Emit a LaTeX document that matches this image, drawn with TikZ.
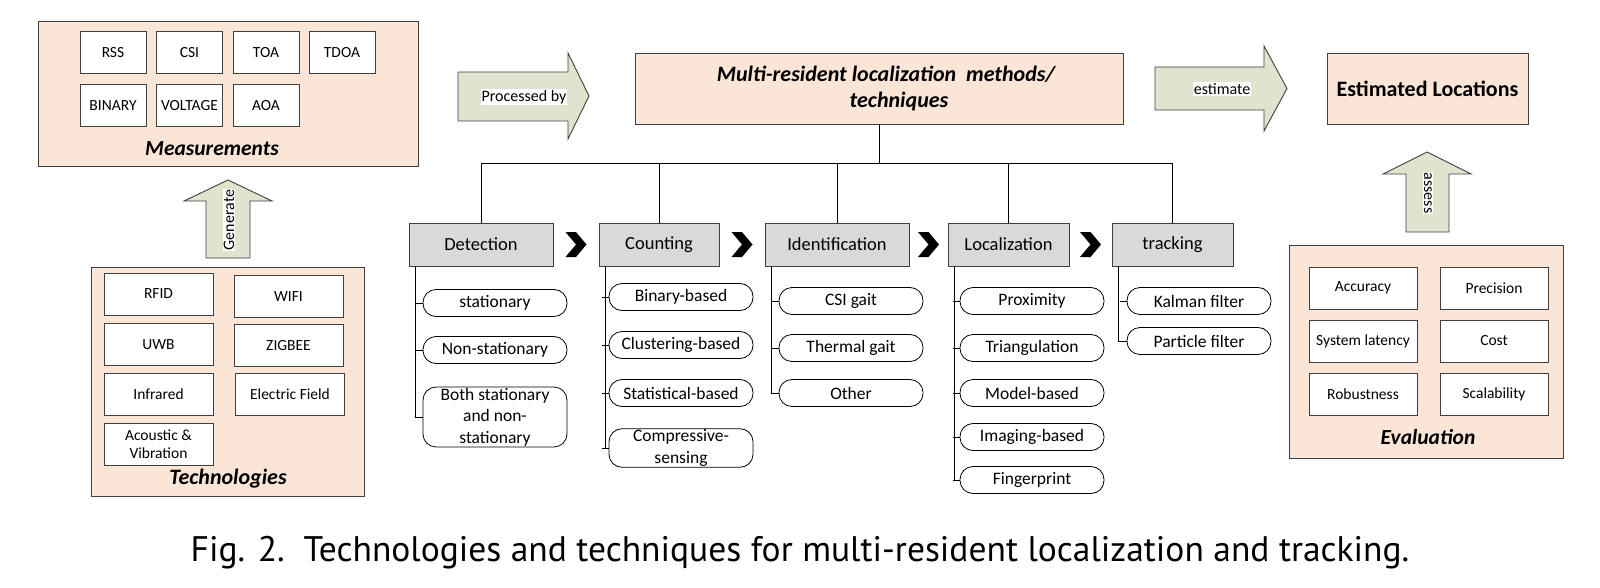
\documentclass[tikz,border=0pt]{standalone}
\usepackage{fontspec}
\setmainfont{Carlito}
\newfontfamily\capfont{PT Sans}
\usetikzlibrary{positioning,calc}
\definecolor{peach}{HTML}{FBE5D6}
\definecolor{sage}{HTML}{DFE4CE}
\definecolor{stagegray}{HTML}{D9D9D9}
\definecolor{edge}{HTML}{3F3F3F}
\newcommand{\pxfont}[2]{\fontsize{#1pt}{#2pt}\selectfont}
\tikzset{
  panel/.style={draw=edge,fill=peach,line width=0.9pt},
  cell/.style={draw=edge,fill=white,line width=0.9pt,minimum height=42pt,inner sep=0pt,align=center,font=\pxfont{15.5}{17.5}},
  stage/.style={draw=edge,fill=stagegray,line width=0.9pt,minimum height=43pt,inner sep=0pt,font=\pxfont{18.5}{22}},
  pill/.style={draw=black,fill=white,line width=0.8pt,rounded corners=13pt,minimum height=27pt,minimum width=144pt,inner sep=1pt,align=center,font=\pxfont{17.5}{21.5}},
  bigarrow/.style={draw=edge,fill=sage,line width=0.9pt,line join=miter},
  tag/.style={fill=white,inner sep=1pt,font=\pxfont{16}{18}},
  heading/.style={font=\bfseries\itshape\pxfont{21.5}{24}},
  chev/.style={fill=black},
  branch/.style={draw=black,line width=0.8pt}
}
\begin{document}
\begin{tikzpicture}[x=1pt,y=-1pt]
\useasboundingbox (0,0) rectangle (1600,588);
% measurements
\draw[panel] (38,21) rectangle (418,166);
\foreach \nm/\cx/\cy/\txt in {rss/113/52.5/RSS, csi/189.5/52.5/CSI, toa/266/52.5/TOA, tdoa/342/52.5/TDOA,
  bin/113/105.5/BINARY, volt/189.5/105.5/VOLTAGE, aoa/266/105.5/AOA}
  \node[cell,minimum width=66pt] (\nm) at (\cx,\cy) {\txt};
\node[heading] (meas) at (212,149) {Measurements};
% technologies
\draw[panel] (91,267) rectangle (364,496);
\foreach \nm/\cx/\cy/\txt in {rfid/158.5/294/RFID, wifi/288.5/296.5/WIFI, uwb/158.5/344.5/UWB, zig/288.5/345.5/ZIGBEE,
  ir/158.5/394/Infrared, ef/290/394.5/Electric Field, ac/158.5/444/{Acoustic \&\\Vibration}}
  \node[cell,minimum width=109pt] (\nm) at (\cx,\cy) {\txt};
\node[heading,font=\bfseries\itshape\pxfont{22}{24}] (tech) at (228,479) {Technologies};
% generate arrow
\draw[bigarrow] (206,258) -- (206,201) -- (184,201) -- (228,180) -- (272,201) -- (250,201) -- (250,258) -- cycle;
\node[tag,rotate=90] (gen) at (229,220) {Generate};
% processed by arrow
\draw[bigarrow] (458,72) -- (568,72) -- (568,53) -- (589,96) -- (568,139) -- (568,121) -- (458,121) -- cycle;
\node[tag] (proc) at (524,97) {Processed by};
% methods box
\node[draw=edge,fill=peach,line width=0.9pt,minimum width=488pt,minimum height=71pt,align=center,
  font=\bfseries\itshape\pxfont{22}{26}] (main) at (879,88.5) {\hspace*{14pt}Multi-resident localization\ \ methods/\\\hspace*{40pt}techniques};
% estimate arrow
\draw[bigarrow] (1155,67) -- (1264,67) -- (1264,46) -- (1287,88.5) -- (1264,131) -- (1264,110) -- (1155,110) -- cycle;
\node[tag] (est) at (1222,89) {estimate};
\node[draw=edge,fill=peach,line width=0.9pt,minimum width=201pt,minimum height=71pt,
  font=\bfseries\pxfont{22}{24}] (loc) at (1427.5,88.5) {Estimated Locations};
% assess arrow
\draw[bigarrow] (1406,232) -- (1406,174) -- (1383,174) -- (1427,152) -- (1471,174) -- (1449,174) -- (1449,232) -- cycle;
\node[tag,rotate=270] (ass) at (1428,193) {assess};
% evaluation
\draw[panel] (1289,245) rectangle (1563,458);
\foreach \nm/\cx/\cy/\txt in {acc/1363/288/Accuracy, prec/1494/288/Precision, lat/1363/341/System latency,
  cost/1494/341/Cost, rob/1363/394/Robustness, scal/1494/394/Scalability}
  \node[cell,minimum width=108pt] (\nm) at (\cx,\cy) {\txt};
\node[heading] (eval) at (1428,437) {Evaluation};
% stages
\foreach \nm/\cx/\w/\txt in {det/481/144/Detection, cnt/659/120/Counting, idf/837/144/Identification,
  lcz/1008.5/121/Localization, trk/1172.5/121/tracking}
  \node[stage,minimum width=\w pt] (\nm) at (\cx,244.5) {\txt};
\coordinate (bus) at (879,163);
\draw[branch] (main.south) -- (bus);
\foreach \nm in {det,cnt,idf,lcz,trk}
  \draw[branch] (\nm.north) |- (bus);
% chevrons between stages
\foreach \a/\b in {det/cnt, cnt/idf, idf/lcz, lcz/trk}
  \fill[chev] ($(\a.east)!0.5!(\b.west)$) ++(-10.5,-12.5) -- ++(10.5,0) -- ++(10.5,12.5) -- ++(-10.5,12.5) -- ++(-10.5,0) -- ++(10.5,-12.5) -- cycle;
% sub-items
\foreach \i/\y/\txt in {1/303/stationary, 2/350/Non-stationary, 3/417/{Both stationary\\and non-\\stationary}}
  \node[pill] (det\i) at (495,\y) {\txt};
\foreach \i/\y/\txt in {1/297/Binary-based, 2/345/Clustering-based, 3/393/Statistical-based, 4/448/{Compressive-\\sensing}}
  \node[pill] (cnt\i) at (681,\y) {\txt};
\foreach \i/\y/\txt in {1/301/CSI gait, 2/348/Thermal gait, 3/393/Other}
  \node[pill] (idf\i) at (851,\y) {\txt};
\foreach \i/\y/\txt in {1/301/Proximity, 2/348/Triangulation, 3/393/Model-based, 4/437/Imaging-based, 5/480/Fingerprint}
  \node[pill] (lcz\i) at (1032,\y) {\txt};
\foreach \i/\y/\txt in {1/301/Kalman filter, 2/341/Particle filter}
  \node[pill] (trk\i) at (1199,\y) {\txt};
% spines
\foreach \nm/\last in {det/3, cnt/4, idf/3, lcz/5, trk/2}
{
  \draw[branch] (\nm\last.west) -| ([xshift=7pt]\nm.south west);
  \foreach \i in {1,...,\last}
    \draw[branch] (\nm\i.west) -- ++(-7,0);
}
% caption
\node[font=\capfont\pxfont{35.5}{40}] (cap) at (800,553) {Fig. 2.\ \ Technologies and techniques for multi-resident localization and tracking.};
\end{tikzpicture}
\end{document}
